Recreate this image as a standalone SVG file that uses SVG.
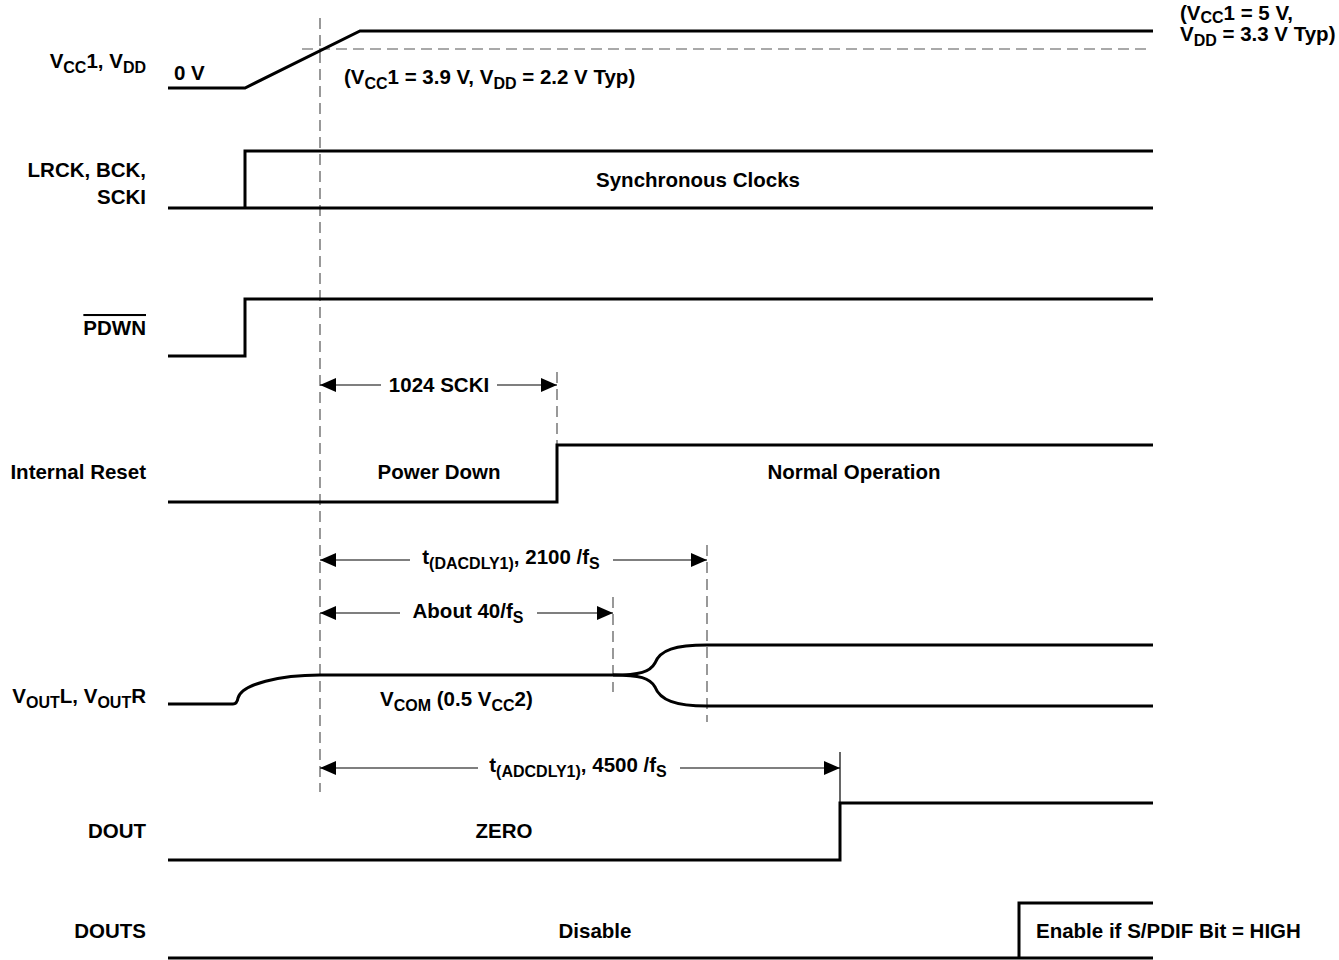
<svg xmlns="http://www.w3.org/2000/svg" width="1339" height="960" viewBox="0 0 1339 960">
<style>
text{font-family:"Liberation Sans",Arial,sans-serif;font-weight:bold;font-size:20.5px;fill:#000}
.s{font-size:16px}
.sig{fill:none;stroke:#000;stroke-width:3;stroke-linejoin:miter}
.dash{fill:none;stroke:#555;stroke-width:1.2;stroke-dasharray:11 6}
.dim{fill:none;stroke:#000;stroke-width:1.2}
.r{text-anchor:end}
.m{text-anchor:middle}
</style>
<defs>
<marker id="ah" viewBox="0 0 16 14" refX="16" refY="7" markerWidth="16" markerHeight="14" markerUnits="userSpaceOnUse" orient="auto-start-reverse">
<path d="M0,0 L16,7 L0,14 Z" fill="#000"/>
</marker>
</defs>
<rect width="1339" height="960" fill="#fff"/>

<g id="labels">
<text class="r" x="146" y="68">V<tspan class="s" dy="5">CC</tspan><tspan dy="-5">1, V</tspan><tspan class="s" dy="5">DD</tspan></text>
<text class="r" x="146" y="177">LRCK, BCK,</text>
<text class="r" x="146" y="204">SCKI</text>
<text class="r" x="146" y="335" text-decoration="overline">PDWN</text>
<text class="r" x="146" y="479">Internal Reset</text>
<text class="r" x="146" y="703">V<tspan class="s" dy="5">OUT</tspan><tspan dy="-5">L, V</tspan><tspan class="s" dy="5">OUT</tspan><tspan dy="-5">R</tspan></text>
<text class="r" x="146" y="838">DOUT</text>
<text class="r" x="146" y="938">DOUTS</text>
</g>

<g id="guides">
<line class="dash" x1="320" y1="18" x2="320" y2="792"/>
<line class="dash" x1="302" y1="49" x2="1148" y2="49"/>
<line class="dash" x1="557" y1="372" x2="557" y2="446"/>
<line class="dash" x1="707" y1="545" x2="707" y2="722"/>
<line class="dash" x1="613" y1="597" x2="613" y2="692"/>
<line class="dim" x1="840" y1="752" x2="840" y2="803"/>
</g>

<g id="vcc">
<polyline class="sig" points="168,88 245,88 360,31 1153,31"/>
<text x="174" y="80">0 V</text>
<text x="344" y="84">(V<tspan class="s" dy="5">CC</tspan><tspan dy="-5">1 =  3.9 V, V</tspan><tspan class="s" dy="5">DD</tspan><tspan dy="-5"> = 2.2 V Typ)</tspan></text>
<text x="1180" y="20">(V<tspan class="s" dy="3">CC</tspan><tspan dy="-3">1 =  5 V,</tspan></text>
<text x="1180" y="41">V<tspan class="s" dy="5">DD</tspan><tspan dy="-5"> = 3.3 V Typ)</tspan></text>
</g>

<g id="clocks">
<polyline class="sig" points="168,208 1153,208"/>
<polyline class="sig" points="245,208 245,151 1153,151"/>
<text class="m" x="698" y="187">Synchronous Clocks</text>
</g>

<g id="pdwn">
<polyline class="sig" points="168,356 245,356 245,299 1153,299"/>
</g>

<g id="reset">
<polyline class="sig" points="168,502 557,502 557,445 1153,445"/>
<text class="m" x="439" y="479">Power Down</text>
<text class="m" x="854" y="479">Normal Operation</text>
</g>

<g id="vout">
<path class="sig" d="M168,704 H233 Q237,704 238,698 C242,684 280,675 320,675 H613"/>
<path class="sig" d="M613,675 C640,675 650,672 655,663 C660,650 675,645 707,645 H1153"/>
<path class="sig" d="M613,675 C640,675 650,678 655,687 C660,700 675,706 707,706 H1153"/>
<text x="380" y="706">V<tspan class="s" dy="5">COM</tspan><tspan dy="-5"> (0.5 V</tspan><tspan class="s" dy="5">CC</tspan><tspan dy="-5">2)</tspan></text>
</g>

<g id="dout">
<polyline class="sig" points="168,860 840,860 840,803 1153,803"/>
<text class="m" x="504" y="838">ZERO</text>
</g>

<g id="douts">
<polyline class="sig" points="168,958 1153,958"/>
<polyline class="sig" points="1019,958 1019,903 1153,903"/>
<text class="m" x="595" y="938">Disable</text>
<text x="1036" y="938">Enable if S/PDIF Bit = HIGH</text>
</g>

<g id="connectors">
<line class="dim" x1="381" y1="385" x2="320" y2="385" marker-end="url(#ah)"/>
<line class="dim" x1="497" y1="385" x2="557" y2="385" marker-end="url(#ah)"/>
<text class="m" x="439" y="392">1024 SCKI</text>

<line class="dim" x1="410" y1="560" x2="320" y2="560" marker-end="url(#ah)"/>
<line class="dim" x1="613" y1="560" x2="707" y2="560" marker-end="url(#ah)"/>
<text class="m" x="511" y="564">t<tspan class="s" dy="5">(DACDLY1)</tspan><tspan dy="-5">, 2100 /f</tspan><tspan class="s" dy="5">S</tspan></text>

<line class="dim" x1="400" y1="613" x2="320" y2="613" marker-end="url(#ah)"/>
<line class="dim" x1="537" y1="613" x2="613" y2="613" marker-end="url(#ah)"/>
<text class="m" x="468" y="618">About 40/f<tspan class="s" dy="5">S</tspan></text>

<line class="dim" x1="478" y1="768" x2="320" y2="768" marker-end="url(#ah)"/>
<line class="dim" x1="680" y1="768" x2="840" y2="768" marker-end="url(#ah)"/>
<text class="m" x="578" y="772">t<tspan class="s" dy="5">(ADCDLY1)</tspan><tspan dy="-5">, 4500 /f</tspan><tspan class="s" dy="5">S</tspan></text>
</g>
</svg>
